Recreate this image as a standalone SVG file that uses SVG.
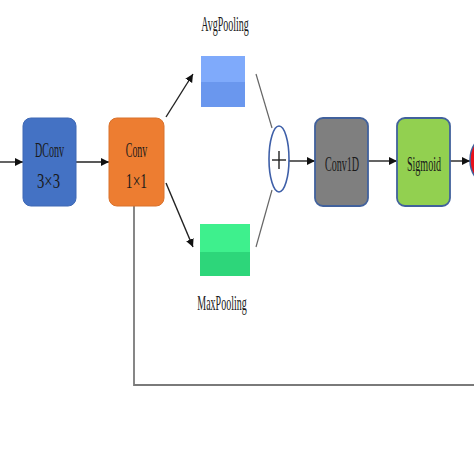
<svg xmlns="http://www.w3.org/2000/svg" width="474" height="474" viewBox="0 0 474 474">
<defs>
<marker id="ah" viewBox="0 0 10 10" refX="10" refY="5" markerWidth="8" markerHeight="9" markerUnits="userSpaceOnUse" orient="auto">
<path d="M0,0 L10,5 L0,10 z" fill="#111"/>
</marker>
</defs>
<style>
text{font-family:"Liberation Serif","Times New Roman",serif;font-size:21px;fill:#1a1a1a;text-anchor:middle}
.lab{font-size:20px}
.ar{stroke:#222;stroke-width:1.4;fill:none;marker-end:url(#ah)}
.ln{stroke:#666;stroke-width:1.2;fill:none}
.byp{stroke:#7a7a7a;stroke-width:1.8;fill:none}
</style>
<rect width="474" height="474" fill="#fff"/>
<g id="connectors">
<line class="ar" x1="0" y1="162" x2="23" y2="162"/>
<line class="ar" x1="76" y1="162" x2="109" y2="162"/>
<line class="ar" x1="166" y1="117" x2="193" y2="74"/>
<line class="ar" x1="166" y1="183" x2="193" y2="247"/>
<line class="ln" x1="256" y1="74" x2="272" y2="128"/>
<line class="ln" x1="256" y1="247" x2="272" y2="190"/>
<line class="ar" x1="289" y1="161" x2="315" y2="161"/>
<line class="ar" x1="368" y1="161" x2="397" y2="161"/>
<line class="ar" x1="450" y1="161" x2="470" y2="161"/>
<polyline class="byp" points="134,206 134,385 474,385"/>
</g>
<g id="dconv">
<rect x="23" y="118" width="53" height="88" rx="8" fill="#4472C4" stroke="#3f69b5" stroke-width="1"/>
<text transform="translate(49.5,157) scale(0.48,1)">DConv</text>
<text transform="translate(48.5,188) scale(0.7,1)">3×3</text>
</g>
<g id="conv">
<rect x="109" y="118" width="55" height="88" rx="8" fill="#ED7D31" stroke="#d9722c" stroke-width="1"/>
<text transform="translate(136.5,157) scale(0.47,1)">Conv</text>
<text transform="translate(136.5,188) scale(0.65,1)">1×1</text>
</g>
<g id="avgpooling">
<rect x="201" y="56" width="44" height="26" fill="#7FAAFB"/>
<rect x="201" y="82" width="44" height="25" fill="#6A97EE"/>
<text class="lab" transform="translate(225,31) scale(0.5,1)">AvgPooling</text>
</g>
<g id="maxpooling">
<rect x="200" y="224" width="50" height="28" fill="#3EF08D"/>
<rect x="200" y="252" width="50" height="24" fill="#2DD67A"/>
<text class="lab" transform="translate(222,310) scale(0.5,1)">MaxPooling</text>
</g>
<g id="add">
<ellipse cx="279" cy="159" rx="10" ry="33" fill="#fff" stroke="#3E5FA8" stroke-width="1.6"/>
<line x1="279" y1="151" x2="279" y2="169" stroke="#222" stroke-width="1.4"/>
<line x1="272" y1="160" x2="286" y2="160" stroke="#222" stroke-width="1.4"/>
</g>
<g id="conv1d">
<rect x="315" y="118" width="53" height="88" rx="8" fill="#7F7F7F" stroke="#41619C" stroke-width="1.8"/>
<text transform="translate(342,171) scale(0.48,1)">Conv1D</text>
</g>
<g id="sigmoid">
<rect x="397" y="118" width="53" height="88" rx="8" fill="#92D050" stroke="#41619C" stroke-width="1.8"/>
<text transform="translate(424,171) scale(0.48,1)">Sigmoid</text>
</g>
<g id="mult">
<ellipse cx="486" cy="160" rx="16" ry="23" fill="#E8101A" stroke="#41619C" stroke-width="1.5"/>
</g>
</svg>
